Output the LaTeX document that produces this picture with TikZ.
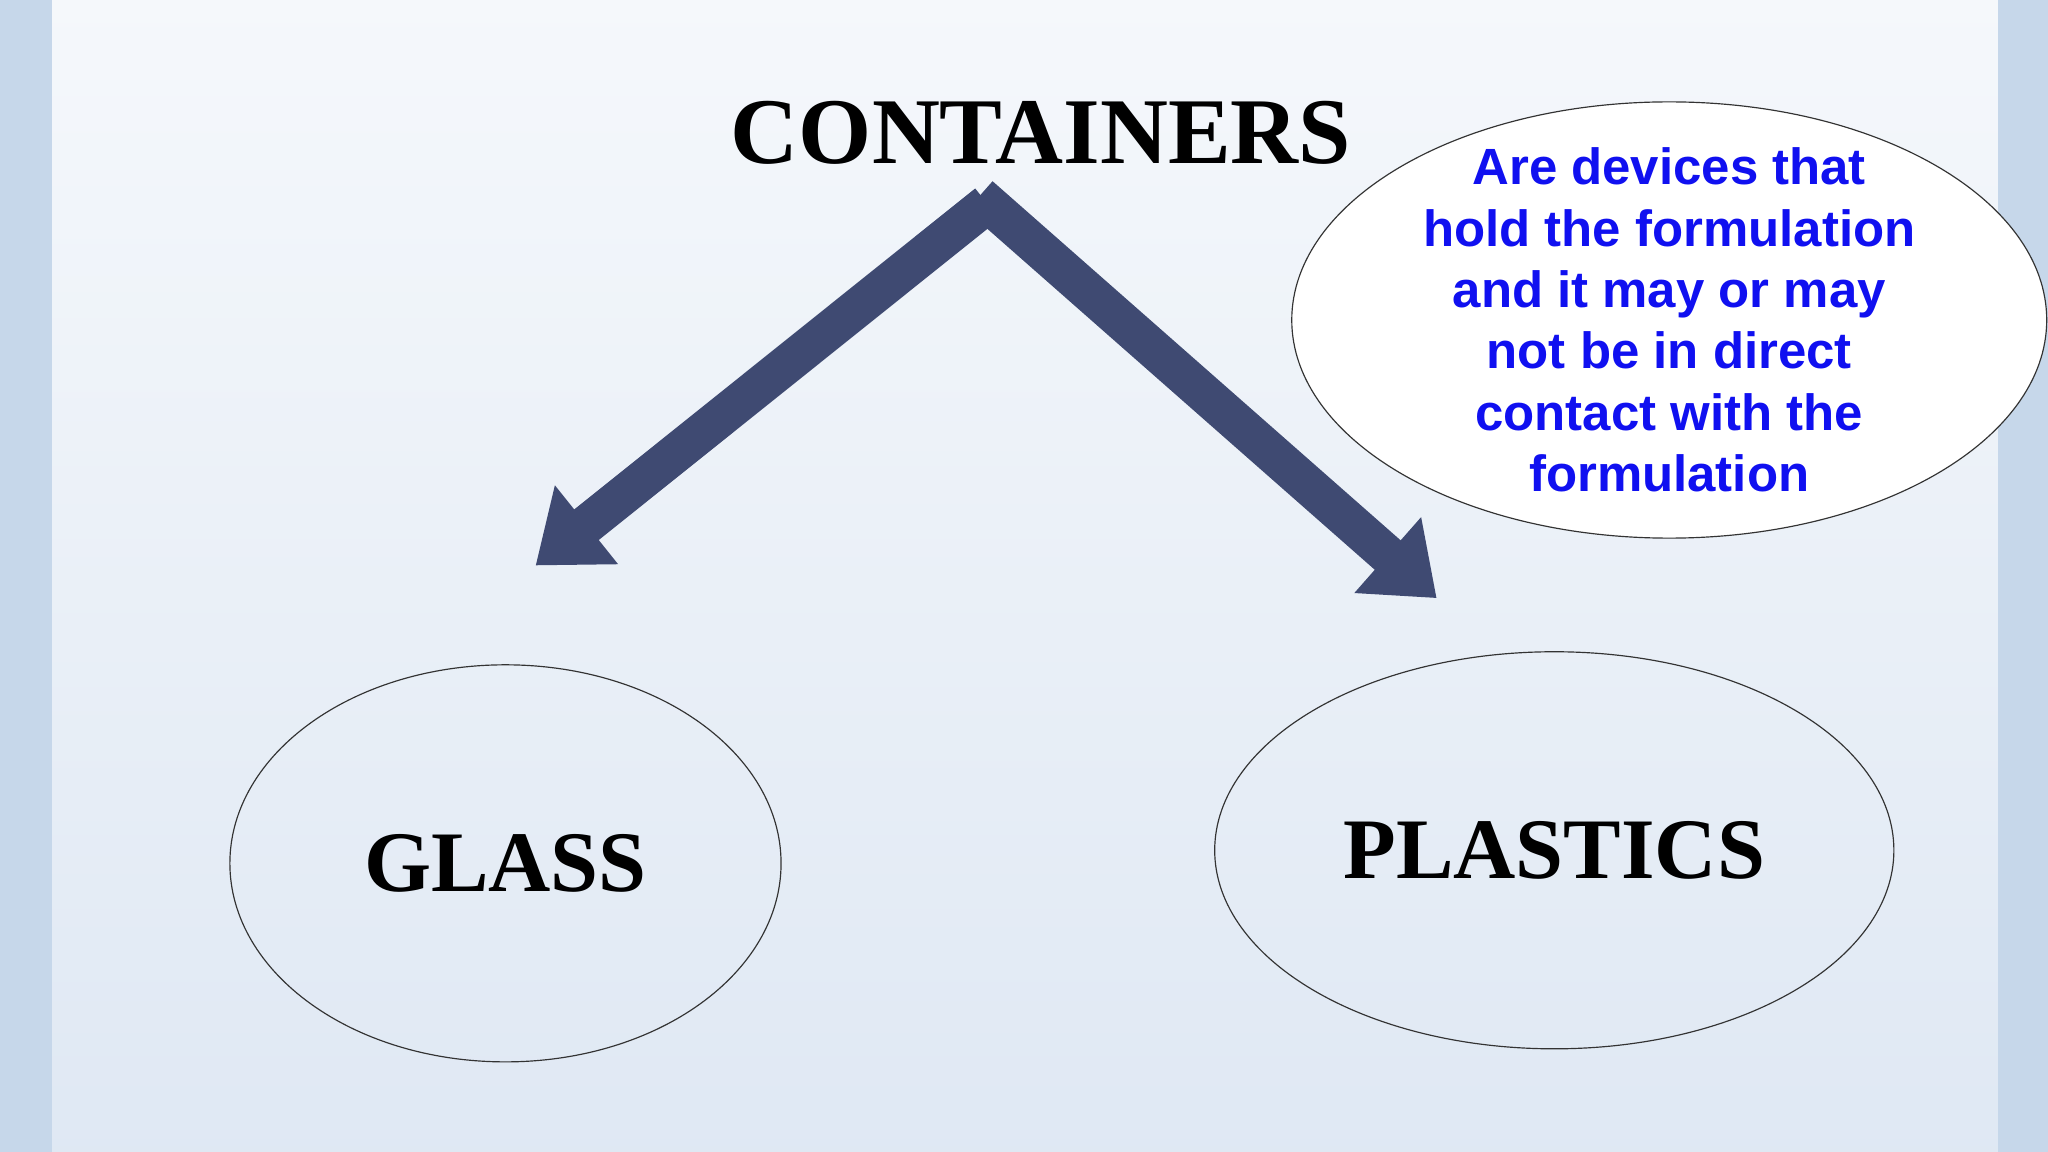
\documentclass[tikz,border=0pt]{standalone}
\usepackage{fontspec}
\setmainfont{Liberation Serif}
\newfontfamily\blsans{Liberation Sans}
\usetikzlibrary{arrows.meta,shapes.geometric}
\definecolor{bgmid}{HTML}{E6EDF6}
\definecolor{bgedge}{HTML}{B9CDE5}
\definecolor{arr}{HTML}{3F4A72}
\definecolor{txtblue}{HTML}{1010F0}
\tikzset{
 ell/.style={ellipse,draw=black!80,line width=0.9pt,inner sep=0pt},
 big/.style={font=\bfseries\fontsize{72}{80}\selectfont},
 blockarrow/.style={draw=arr,line width=30pt,-{Triangle[length=50pt,width=74pt]}}
}
\begin{document}
\begin{tikzpicture}[x=1pt,y=-1pt]
\useasboundingbox (0,0) rectangle (1568,882);
\shade[top color=white!60!bgmid,bottom color=bgmid!85!bgedge] (40,0) rectangle (1530,882);
\fill[bgedge!70!bgmid] (0,0) rectangle (40,882);
\fill[bgedge!70!bgmid] (1530,0) rectangle (1568,882);
\node[big] (cont) at (797,102) {CONTAINERS};
\coordinate (s1) at (756,156);
\coordinate (t1) at (410,433);
\coordinate (s2) at (750,150);
\coordinate (t2) at (1100,458);
\draw[blockarrow] (s1) -- (t1);
\draw[blockarrow] (s2) -- (t2);
\node[ell,minimum width=422pt,minimum height=304pt] (glass) at (387,661) {};
\node[big,font=\bfseries\fontsize{66}{70}\selectfont] at (glass) {GLASS};
\node[ell,minimum width=520pt,minimum height=304pt] (plast) at (1190,651) {};
\node[big,font=\bfseries\fontsize{66}{70}\selectfont] at (plast) {PLASTICS};
\node[ell,fill=white,minimum width=578pt,minimum height=334pt] (def) at (1278,245) {};
\node[align=center,text=txtblue,font=\blsans\bfseries\fontsize{39}{47}\selectfont] at (def) {Are devices that\\hold the formulation\\and it may or may\\not be in direct\\contact with the\\formulation};
\end{tikzpicture}
\end{document}
